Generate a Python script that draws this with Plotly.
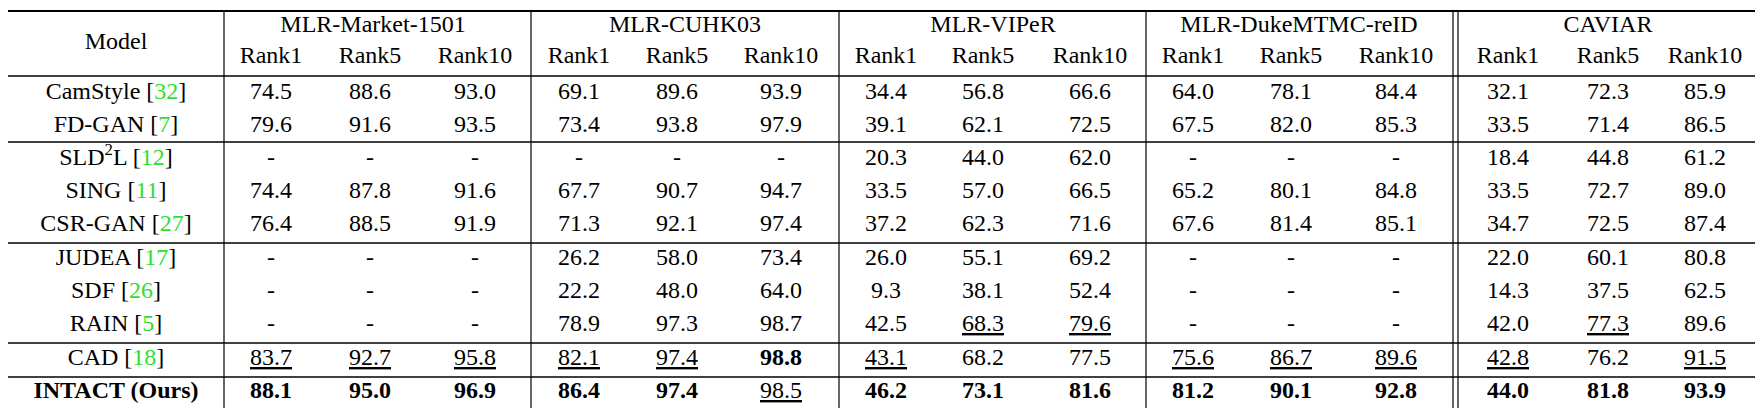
import re
import plotly.graph_objects as go

models = ["CamStyle [32]", "FD-GAN [7]", "SLD<sup>2</sup>L [12]", "SING [11]", "CSR-GAN [27]",
          "JUDEA [17]", "SDF [26]", "RAIN [5]", "CAD [18]", "<b>INTACT (Ours)</b>"]
datasets = ["MLR-Market-1501", "MLR-CUHK03", "MLR-VIPeR", "MLR-DukeMTMC-reID", "CAVIAR"]
ranks = ["Rank1", "Rank5", "Rank10"]
values = [
    ["74.5", "88.6", "93.0", "69.1", "89.6", "93.9", "34.4", "56.8", "66.6", "64.0", "78.1", "84.4", "32.1", "72.3", "85.9"],
    ["79.6", "91.6", "93.5", "73.4", "93.8", "97.9", "39.1", "62.1", "72.5", "67.5", "82.0", "85.3", "33.5", "71.4", "86.5"],
    ["-", "-", "-", "-", "-", "-", "20.3", "44.0", "62.0", "-", "-", "-", "18.4", "44.8", "61.2"],
    ["74.4", "87.8", "91.6", "67.7", "90.7", "94.7", "33.5", "57.0", "66.5", "65.2", "80.1", "84.8", "33.5", "72.7", "89.0"],
    ["76.4", "88.5", "91.9", "71.3", "92.1", "97.4", "37.2", "62.3", "71.6", "67.6", "81.4", "85.1", "34.7", "72.5", "87.4"],
    ["-", "-", "-", "26.2", "58.0", "73.4", "26.0", "55.1", "69.2", "-", "-", "-", "22.0", "60.1", "80.8"],
    ["-", "-", "-", "22.2", "48.0", "64.0", "9.3", "38.1", "52.4", "-", "-", "-", "14.3", "37.5", "62.5"],
    ["-", "-", "-", "78.9", "97.3", "98.7", "42.5", "68.3", "79.6", "-", "-", "-", "42.0", "77.3", "89.6"],
    ["83.7", "92.7", "95.8", "82.1", "97.4", "98.8", "43.1", "68.2", "77.5", "75.6", "86.7", "89.6", "42.8", "76.2", "91.5"],
    ["88.1", "95.0", "96.9", "86.4", "97.4", "98.5", "46.2", "73.1", "81.6", "81.2", "90.1", "92.8", "44.0", "81.8", "93.9"],
]
underlined = [(7, 7), (7, 8), (7, 13),
              (8, 0), (8, 1), (8, 2), (8, 3), (8, 4), (8, 6), (8, 9), (8, 10), (8, 11), (8, 12), (8, 14),
              (9, 5)]
bold = [(8, 5)] + [(9, c) for c in range(15) if c != 5]

# layout geometry (pixels)
W, H = 1763, 408
col_x = [263, 362, 467, 571, 669, 773, 878, 975, 1082, 1185, 1283, 1388, 1500, 1600, 1697]
grp_x = [365, 677, 985, 1291, 1600]
model_x = 108
row_y = [85, 118, 151, 184, 217, 251, 284, 317, 351, 384]
FONT = "Liberation Serif, Times New Roman, Times, serif"


def fmt(s):
    return re.sub(r"\[(\d+)\]", r"[<span style='color:#2ee02e'>\1</span>]", s)


fig = go.Figure()
fig.add_trace(go.Scatter(x=[model_x] + grp_x, y=[35] + [18] * 5, text=["Model"] + datasets,
                         mode="text", textposition="middle center", hoverinfo="skip"))
fig.add_trace(go.Scatter(x=col_x, y=[49] * 15, text=ranks * 5, mode="text",
                         textposition="middle center", hoverinfo="skip"))
fig.add_trace(go.Scatter(x=[model_x] * len(models), y=row_y, text=[fmt(m) for m in models],
                         mode="text", textposition="middle center", hoverinfo="skip"))
xs, ys, ts = [], [], []
for r, row in enumerate(values):
    for c, v in enumerate(row):
        t = v
        if (r, c) in bold:
            t = "<b>" + t + "</b>"
        if (r, c) in underlined:
            t = "<u>" + t + "</u>"
        xs.append(col_x[c]); ys.append(row_y[r]); ts.append(t)
fig.add_trace(go.Scatter(x=xs, y=ys, text=ts, mode="text", textposition="middle center", hoverinfo="skip"))
fig.update_traces(textfont=dict(family=FONT, size=24, color="black"), showlegend=False)

shapes = []
for y, w in [(3, 2), (68, 1.5), (134, 1.5), (235, 1.5), (335, 1.5), (369, 1.5), (403, 2)]:
    shapes.append(dict(type="line", x0=0, x1=W, y0=y, y1=y, line=dict(color="black", width=w)))
for x in [216, 523, 831, 1138, 1445, 1450]:
    shapes.append(dict(type="line", x0=x, x1=x, y0=3, y1=403, line=dict(color="black", width=1.2)))

fig.update_layout(width=W, height=H, margin=dict(l=0, r=0, t=0, b=0),
                  font=dict(family=FONT, size=24, color="black"),
                  paper_bgcolor="white", plot_bgcolor="white", shapes=shapes,
                  xaxis=dict(range=[0, W], visible=False, fixedrange=True),
                  yaxis=dict(range=[H, 0], visible=False, fixedrange=True))
fig.write_html("out.html", config={"displayModeBar": False})
